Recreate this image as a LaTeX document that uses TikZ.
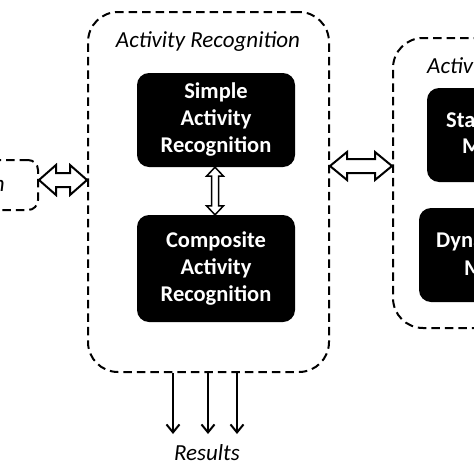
\documentclass[tikz,border=0pt]{standalone}
\usepackage{fontspec}
\setmainfont{Carlito}
\usetikzlibrary{calc,arrows.meta}
\newcommand\hdarrow[5]{%
  \draw[hollow] (#1) -- ($(#1)+(#3,#4)$) -- ($(#1)+(#3,#5)$) -- ($(#2)+(-#3,#5)$) -- ($(#2)+(-#3,#4)$) -- (#2)
   -- ($(#2)+(-#3,-#4)$) -- ($(#2)+(-#3,-#5)$) -- ($(#1)+(#3,-#5)$) -- ($(#1)+(#3,-#4)$) -- cycle;}
\newcommand\vdarrow[5]{%
  \draw[hollow] (#1) -- ($(#1)+(#4,#3)$) -- ($(#1)+(#5,#3)$) -- ($(#2)+(#5,-#3)$) -- ($(#2)+(#4,-#3)$) -- (#2)
   -- ($(#2)+(-#4,-#3)$) -- ($(#2)+(-#5,-#3)$) -- ($(#1)+(-#5,#3)$) -- ($(#1)+(-#4,#3)$) -- cycle;}
\begin{document}
\begin{tikzpicture}[x=1pt,y=-1pt,
  group/.style={draw, line width=2pt, dash pattern=on 8.5pt off 5pt, rounded corners=30pt, inner sep=0pt},
  blackbox/.style={fill=black, rounded corners=12pt, text=white, inner sep=0pt,
    font=\bfseries\fontsize{22.5}{27}\selectfont, align=center},
  wtext/.style={text=white, inner sep=0pt, font=\bfseries\fontsize{22.5}{27}\selectfont},
  title/.style={inner sep=0pt, font=\itshape\fontsize{23}{27}\selectfont},
  hollow/.style={draw, fill=white, line width=2pt, line join=miter},
  res/.style={line width=2pt, -{Straight Barb[length=8pt,width=13pt,line width=2pt]}}]
\useasboundingbox (0,0) rectangle (474,474);
\clip (0,0) rectangle (474,474);
\fill[white] (0,0) rectangle (474,474);

% left (cut-off) box
\node[group, rounded corners=10pt, minimum width=198pt, minimum height=50pt] (lbox) at (-61,185) {};
\node[title, anchor=base east] (ltitle) at (5,191) {Segmentation};

% central group
\node[group, minimum width=241pt, minimum height=360pt] (ar) at (208.5,192) {};
\node[title, anchor=base] (artitle) at (208,47) {Activity Recognition};
\node[blackbox, minimum width=158pt, minimum height=94pt] (simple) at (216,120) {Simple\\Activity\\Recognition};
\node[blackbox, minimum width=158pt, minimum height=107pt] (comp) at (216,268.5) {Composite\\Activity\\Recognition};

% right (cut-off) group
\node[group, minimum width=227pt, minimum height=290pt] (rbox) at (506.5,183) {};
\node[title, anchor=base west] (rtitle) at (427,73) {Activity Modeling};
\node[blackbox, minimum width=133pt, minimum height=94pt] (stat) at (493.5,135) {};
\node[wtext, anchor=base west] (stat1) at (446,127) {Statistical};
\node[wtext, anchor=base west] (stat2) at (462,153) {Model};
\node[blackbox, minimum width=141pt, minimum height=94pt] (dyn) at (489.5,255) {};
\node[wtext, anchor=base west] (dyn1) at (436,247) {Dynamic};
\node[wtext, anchor=base west] (dyn2) at (464,275) {Model};

% hollow double arrows
\coordinate (la) at (lbox.east |- 0,180);
\coordinate (lb) at (ar.west |- 0,180);
\hdarrow{la}{lb}{17}{15}{7}
\coordinate (ra) at (ar.east |- 0,166);
\coordinate (rb) at (rbox.west |- 0,166);
\hdarrow{ra}{rb}{17}{14}{7}
\coordinate (va) at (simple.south -| 215,0);
\coordinate (vb) at (comp.north -| 215,0);
\begin{scope}[hollow/.append style={line width=1.5pt}]
\vdarrow{va}{vb}{9}{8.5}{3.5}
\end{scope}

% results
\node[title, anchor=base] (results) at (207,460) {Results};
\draw[res] ([xshift=-35.5pt]ar.south) -- ++(0,61);
\draw[res] ([xshift=-0.5pt]ar.south) -- ++(0,61);
\draw[res] ([xshift=28.5pt]ar.south) -- ++(0,61);
\end{tikzpicture}
\end{document}
